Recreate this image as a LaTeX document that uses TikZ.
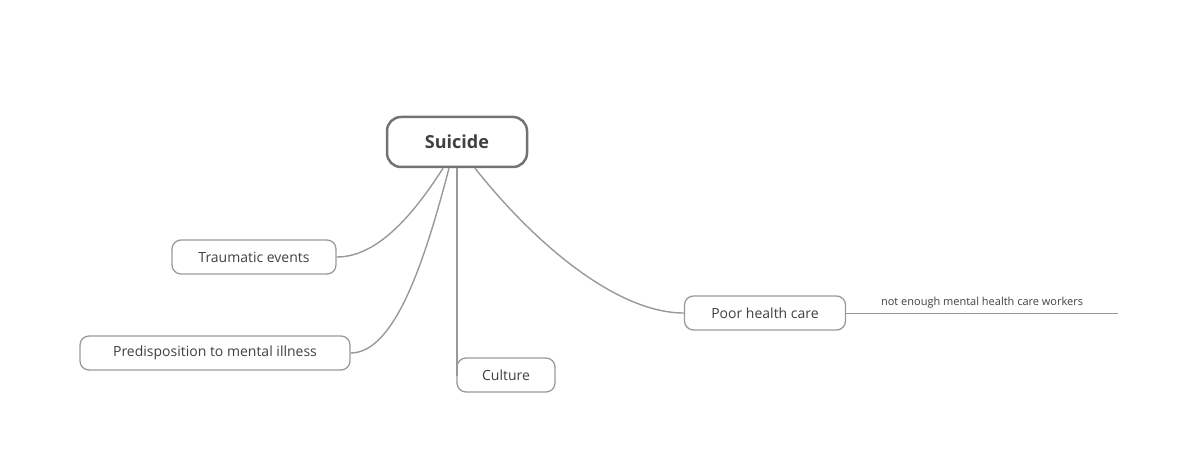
\documentclass[tikz,border=0pt]{standalone}
\usepackage{fontspec}
\setmainfont{Open Sans}
\begin{document}
\begin{tikzpicture}[x=1pt,y=-1pt,
 topic/.style={draw=gray!80,line width=1.3pt,rounded corners=9pt,minimum height=34pt,inner xsep=10pt,text=black!75,font=\fontsize{14}{16}\selectfont},
 main/.style={draw=gray!90!black,line width=2.5pt,rounded corners=14pt,minimum width=140pt,minimum height=50pt,text=black!75,font=\bfseries\fontsize{18}{20}\selectfont},
 conn/.style={draw=gray!80,line width=1.4pt}]
\useasboundingbox (0,0) rectangle (1200,473);
\node[main] (s) at (457,142) {Suicide};
\node[topic,minimum width=164pt] (t) at (254,257) {Traumatic events};
\node[topic,minimum width=270pt] (p) at (215,353) {Predisposition to mental illness};
\node[topic,minimum width=98pt] (c) at (506,375) {Culture};
\node[topic,minimum width=161pt] (h) at (765,313) {Poor health care};
\coordinate (e) at (1118,313);
\draw[conn] (s.south)++(-14,0) .. controls (410,220) and (375,257) .. (t.east);
\draw[conn] (s.south)++(-8,0) .. controls (425,260) and (395,353) .. (p.east);
\draw[conn] (s.south) -- (457,375) -- (c.west);
\draw[conn] (s.south)++(18,0) .. controls (540,250) and (620,313) .. (h.east -| h.west);
\draw[draw=gray!80,line width=0.9pt] (h.east) -- node[above=1pt,font=\fontsize{11}{13}\selectfont,text=black!75]{not enough mental health care workers} (e);
\end{tikzpicture}
\end{document}
